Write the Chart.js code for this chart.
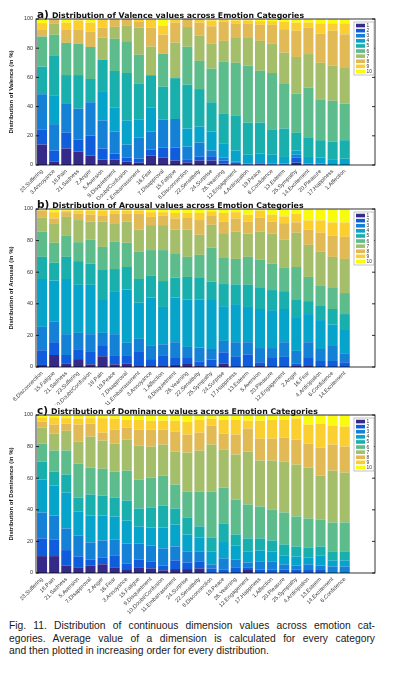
<!DOCTYPE html>
<html>
<head>
<meta charset="utf-8">
<script src="https://cdn.jsdelivr.net/npm/chart.js@4.4.1/dist/chart.umd.min.js"></script>
<style>
  body { margin: 0; background: #fff; width: 403px; height: 682px; position: relative; overflow: hidden; }
  .panel { position: absolute; left: 0; width: 403px; }
  #caption { position: absolute; left: 9px; top: 620px; width: 366px; font: 10.3px "Liberation Sans", Arial, sans-serif; line-height: 12.5px; color: #1a1a1a; }
  #caption .j { text-align: justify; text-align-last: justify; }
</style>
</head>
<body>
<div class="panel" style="top:0"><canvas id="valence" width="403" height="200"></canvas></div>
<div class="panel" style="top:200px"><canvas id="arousal" width="403" height="205"></canvas></div>
<div class="panel" style="top:405px"><canvas id="dominance" width="403" height="214"></canvas></div>
<div id="caption">
  <div class="j">Fig. 11. Distribution of continuous dimension values across emotion cat-</div>
  <div class="j">egories. Average value of a dimension is calculated for every category</div>
  <div>and then plotted in increasing order for every distribution.</div>
</div>
<script>
// rating levels 1..10 and their colours (parula-like)
const levels = ['1', '2', '3', '4', '5', '6', '7', '8', '9', '10'];
const levelColors = ['#352a87', '#0f5cdd', '#1481d6', '#06a4ca', '#19afad',
                     '#5cbc8b', '#a5be6a', '#e1b955', '#fccf30', '#f9fb0e'];

// a) valence: categories in increasing order, each row = share (%) of levels 1..10
const valenceLabels = ['23.Suffering', '3.Annoyance', '18.Pain', '21.Sadness', '2.Anger', '5.Aversion',
  '9.Disquietment', '10.Doubt/Confusion', '11.Embarrassment', '16.Fear', '7.Disapproval', '15.Fatigue',
  '8.Disconnection', '22.Sensitivity', '24.Surprise', '26.Yearning', '12.Engagement', '4.Anticipation',
  '19.Peace', '6.Confidence', '13.Esteem', '25.Sympathy', '14.Excitement', '20.Pleasure', '17.Happiness',
  '1.Affection'];
const valenceRows = [
  [14, 10.4, 24.1, 0, 18.9, 20.6, 0, 4.9, 4.3, 2.8],
  [2.5, 7.4, 18.1, 19.8, 26.9, 14.5, 7.8, 3, 0, 0],
  [11.3, 11, 20, 0, 19.3, 22.1, 0, 9.2, 4.6, 2.5],
  [9.2, 8.3, 21.1, 0, 23, 21.4, 0, 9.9, 6.1, 1],
  [6.4, 13.8, 22.8, 0, 15.9, 22, 0, 10.4, 6.2, 2.5],
  [3.7, 7.6, 19.3, 20, 21.4, 0, 15.2, 6.8, 6, 0],
  [3.7, 4.1, 15.2, 16.5, 24.9, 22, 8.2, 5.4, 0, 0],
  [2.3, 2.7, 9, 16.6, 32.4, 21.8, 10.9, 4.3, 0, 0],
  [1.6, 2.8, 14.5, 12.4, 24.6, 19.6, 18.6, 4.3, 1.6, 0],
  [6.4, 4.2, 12.4, 16.5, 22, 0, 19.6, 13, 5.9, 0],
  [5, 7, 19, 0, 22.6, 22.7, 0, 13, 6.2, 4.5],
  [3, 9, 19.5, 0, 28, 0, 24.3, 13.7, 2, 0.5],
  [1.8, 1.7, 9.1, 12.4, 30, 26, 13.5, 5.5, 0, 0],
  [3, 2.7, 9.7, 11, 25.6, 19.3, 17.2, 9, 2.5, 0],
  [3, 3, 4, 13, 20, 23, 17, 12, 4, 1],
  [1, 2, 2, 9.5, 20.5, 36, 14, 13, 1.5, 0.5],
  [0.5, 1, 1, 7.5, 24, 36, 17, 10, 2, 1],
  [0, 0.5, 0.5, 6, 22, 39, 19, 10, 2, 1],
  [0.5, 0.5, 1, 6, 21, 35.5, 20.5, 11, 2.5, 1.5],
  [0, 0.5, 0.5, 6, 17, 39, 20, 13, 2.5, 1.5],
  [0, 0.5, 0.5, 4.5, 19.5, 31, 21, 16, 5, 2],
  [1.6, 3.4, 2, 3, 12, 27, 25, 18, 5.5, 2.5],
  [0, 0.5, 0.5, 4.5, 13.5, 34, 23, 18, 3.5, 2.5],
  [0, 0.5, 0.5, 4, 12, 28, 25, 20, 7, 3],
  [0, 0, 0, 3.5, 12.5, 28, 24, 24, 5, 3],
  [0, 0, 0, 4.3, 12.7, 25, 25, 22.5, 7.5, 3]
];

// b) arousal
const arousalLabels = ['8.Disconnection', '15.Fatigue', '21.Sadness', '23.Suffering', '10.Doubt/Confusion',
  '18.Pain', '19.Peace', '7.Disapproval', '11.Embarrassment', '3.Annoyance', '1.Affection', '9.Disquietment',
  '26.Yearning', '22.Sensitivity', '25.Sympathy', '24.Surprise', '17.Happiness', '13.Esteem', '5.Aversion',
  '20.Pleasure', '12.Engagement', '2.Anger', '16.Fear', '4.Anticipation', '6.Confidence', '14.Excitement'];
const arousalRows = [
  [1.3, 9.3, 14.8, 30.3, 14, 15.9, 9.1, 4.3, 0.5, 0.5],
  [7.6, 8.1, 12.9, 26.1, 11.3, 12.6, 12.4, 3, 4, 2],
  [2, 5.6, 13.2, 34.9, 14, 13.3, 12, 3, 1, 1],
  [5, 5.8, 10.8, 30.4, 15, 12, 14, 4, 2, 1],
  [1.7, 8.3, 10.8, 31.2, 13.5, 15, 11.5, 4.4, 2.6, 1],
  [6.8, 6.5, 8.3, 21.4, 18.4, 14.6, 16, 4, 3, 1],
  [1.7, 5.3, 13.8, 27.2, 14, 17.5, 11.5, 6, 2, 1],
  [2.3, 4.7, 8.3, 33.7, 14.3, 15.3, 13.4, 5, 2, 1],
  [0.6, 9.4, 7.8, 22.9, 15, 17.2, 14.1, 10, 2, 1],
  [0.6, 4.4, 8.8, 30.1, 14.1, 16, 15.8, 5.2, 3, 2],
  [0.6, 6.4, 7.4, 23.6, 16.4, 19.6, 15.8, 6, 2.2, 2],
  [1.3, 4.4, 10, 28.2, 12.7, 15.4, 15, 7, 3.5, 2.5],
  [1.9, 3.8, 7, 29.9, 14.4, 12.7, 17.3, 7.3, 3.2, 2.5],
  [0.6, 3, 8.7, 30.3, 14.2, 14.2, 12.7, 9.3, 4.5, 2.5],
  [0, 4.7, 6.7, 31, 11.6, 21.6, 14.4, 6, 2.5, 1.5],
  [2.3, 7, 7.2, 22, 14, 16.5, 15.7, 7.3, 5.5, 2.5],
  [0, 6.4, 9.3, 24.1, 12.5, 16.1, 17.2, 8.4, 4, 2],
  [0, 8, 7.7, 22.3, 14, 17.7, 14.8, 7.5, 4.4, 3.6],
  [0.6, 2.4, 9, 24.7, 13.3, 17.8, 17.8, 8.9, 4.5, 1],
  [0, 5.7, 6.3, 24, 12.7, 16.6, 19, 7.7, 4.4, 3.6],
  [0, 6.4, 9.3, 21, 11.3, 14.7, 17.8, 10.5, 4.3, 4.7],
  [0.6, 1.4, 8.2, 20.8, 11.4, 20.9, 21.7, 6.5, 5.5, 3],
  [0.6, 5.1, 10, 17.8, 8.2, 15.3, 20.3, 9.6, 5.9, 7.2],
  [0, 3.8, 7.6, 18.3, 8.9, 12.7, 21.6, 12.1, 7.8, 7.2],
  [0, 3.8, 9.5, 13.7, 9.7, 13.3, 19.7, 13.3, 8.5, 8.5],
  [0, 3, 5.3, 15.7, 9.5, 13.3, 21.6, 14, 9.1, 8.5]
];

// c) dominance
const dominanceLabels = ['23.Suffering', '18.Pain', '21.Sadness', '5.Aversion', '7.Disapproval', '2.Anger',
  '16.Fear', '3.Annoyance', '15.Fatigue', '9.Disquietment', '10.Doubt/Confusion', '11.Embarrassment',
  '24.Surprise', '22.Sensitivity', '8.Disconnection', '19.Peace', '26.Yearning', '12.Engagement',
  '17.Happiness', '1.Affection', '20.Pleasure', '25.Sympathy', '4.Anticipation', '13.Esteem',
  '14.Excitement', '6.Confidence'];
const dominanceRows = [
  [10.7, 11.2, 16.4, 20.9, 11.3, 11.4, 10.1, 3.8, 2.7, 1.5],
  [10.7, 10.6, 15.1, 19, 8.8, 13.3, 10.7, 5.7, 4.6, 1.5],
  [4.8, 9.7, 13.7, 22.8, 11.3, 15.2, 12.5, 4.5, 3.5, 2],
  [3.6, 6.9, 13.3, 15.2, 8.8, 21.5, 13.9, 10.7, 3.8, 2.3],
  [4.8, 3.8, 10.8, 17, 13.3, 17, 19.6, 8.2, 3.5, 2],
  [5.5, 4.4, 10.7, 15.8, 12.6, 17, 17.8, 5, 9.2, 2],
  [3.6, 7.6, 10.1, 14.5, 12, 16.4, 17.7, 8.8, 7, 2.3],
  [1.9, 4.2, 12.6, 14.6, 12.6, 18.9, 19.6, 7.6, 5, 3],
  [3.6, 5, 10.1, 10.8, 11.3, 18.4, 21.4, 10.1, 6.3, 3],
  [2.9, 4.5, 10.1, 11.3, 12.7, 18.9, 19.6, 10.7, 5.7, 3.6],
  [1.7, 3.1, 10.8, 13.2, 13.9, 19, 19.6, 9.4, 5.7, 3.6],
  [2.5, 5.5, 8.8, 13.9, 10.1, 15.2, 20.8, 12.7, 6.9, 3.6],
  [2.5, 4.2, 7, 10.7, 10.8, 16.4, 24.6, 11.4, 8.2, 4.2],
  [2.9, 4.5, 6.3, 8.8, 7, 22.1, 25.9, 11.3, 8.2, 3],
  [0, 2.9, 2.6, 8.2, 8.8, 29.1, 29.7, 12, 4.4, 2.3],
  [0, 2.3, 7, 10.3, 11.8, 22.6, 24, 10.2, 8.8, 3],
  [0, 3.6, 5, 8.9, 6.9, 22.1, 28.5, 12.6, 9.4, 3],
  [1.9, 1.7, 3.1, 7, 8.2, 21.5, 33.4, 14.6, 5, 3.6],
  [0, 2.3, 5.1, 6.9, 7.6, 20.2, 29.1, 13.8, 11.4, 3.6],
  [0, 2.3, 5.1, 6.3, 6.9, 19.6, 31, 13.8, 12, 3],
  [0, 2.3, 3.2, 5.7, 6.9, 20.2, 32.2, 15.2, 11.3, 3],
  [0, 2.3, 2.5, 5.7, 6.3, 19, 32.8, 15.8, 13.3, 2.3],
  [0, 1.9, 3.6, 4.4, 6.3, 18.3, 32.2, 15.2, 12, 6.1],
  [0, 1.9, 2.9, 6.4, 5.6, 17.1, 27.8, 17.7, 15.1, 5.5],
  [0, 0, 4.2, 3.8, 5.7, 18.3, 32.8, 16.5, 12, 6.7],
  [0, 0, 4.2, 3.8, 5.7, 18.3, 31.6, 16.4, 12.6, 7.4]
];

const yTicks = [0, 20, 40, 60, 80, 100];

// box round the axes with inward ticks, matlab style
const axesBox = {
  id: 'axesBox',
  afterDatasetsDraw(chart) {
    const { ctx, chartArea: a, scales } = chart;
    ctx.save();
    ctx.strokeStyle = '#000';
    ctx.lineWidth = 0.8;
    ctx.strokeRect(a.left, a.top, a.right - a.left, a.bottom - a.top);
    ctx.beginPath();
    yTicks.forEach(v => {
      const y = scales.y.getPixelForValue(v);
      ctx.moveTo(a.left, y); ctx.lineTo(a.left + 3, y);
      ctx.moveTo(a.right, y); ctx.lineTo(a.right - 3, y);
    });
    ctx.stroke();
    ctx.restore();
  }
};

// "a) Distribution of ..." drawn from the left edge of the axes
const panelTitle = {
  id: 'panelTitle',
  afterDraw(chart, args, opts) {
    const { ctx, chartArea: a } = chart;
    ctx.save();
    ctx.fillStyle = '#111';
    ctx.textBaseline = 'alphabetic';
    ctx.font = 'bold 10.5px "DejaVu Sans"';
    const y = a.top - 1.5;
    ctx.fillText(opts.tag, a.left + 1, y);
    const w = ctx.measureText(opts.tag).width + 3;
    ctx.font = 'bold 7.8px "DejaVu Sans"';
    ctx.fillText(opts.text, a.left + 1 + w, y);
    ctx.restore();
  }
};

// small boxed legend in the top-right corner of the axes
const boxLegend = {
  id: 'boxLegend',
  afterDraw(chart) {
    const { ctx, chartArea: a } = chart;
    const sets = chart.data.datasets;
    const rowH = 5.1, w = 20, x = a.right - w - 1, y = a.top + 3;
    ctx.save();
    ctx.fillStyle = '#fff';
    ctx.fillRect(x, y, w, rowH * sets.length + 2);
    ctx.strokeStyle = '#999';
    ctx.lineWidth = 0.6;
    ctx.strokeRect(x, y, w, rowH * sets.length + 2);
    ctx.font = '4.8px "Liberation Sans"';
    ctx.textBaseline = 'middle';
    sets.forEach((ds, i) => {
      const cy = y + 1 + rowH * (i + 0.5);
      ctx.fillStyle = ds.backgroundColor;
      ctx.fillRect(x + 2, cy - 1.8, 9, 3.6);
      ctx.fillStyle = '#333';
      ctx.fillText(ds.label, x + 12.5, cy + 0.2);
    });
    ctx.restore();
  }
};

function makeChart(id, tag, title, yTitle, labels, rows, top, xHeight) {
  const datasets = levels.map((lv, i) => ({
    label: lv,
    data: rows.map(r => r[i]),
    backgroundColor: levelColors[i],
    borderWidth: 0,
    barPercentage: 0.83,
    categoryPercentage: 1
  }));
  return new Chart(document.getElementById(id), {
    type: 'bar',
    // two empty slots on the right leave room for the legend
    data: { labels: labels.concat(['', '']), datasets },
    options: {
      responsive: false,
      animation: false,
      layout: { padding: { left: 0, right: 28, top: top, bottom: 0 } },
      plugins: {
        legend: { display: false },
        tooltip: { enabled: false },
        panelTitle: { tag: tag, text: title }
      },
      scales: {
        x: {
          stacked: true,
          grid: { display: false, drawTicks: false },
          border: { display: false },
          ticks: {
            autoSkip: false, minRotation: 45, maxRotation: 45, padding: 3,
            color: '#3a3a3a', font: { family: '"Liberation Sans"', size: 5.6 }
          },
          afterFit: s => { s.height = xHeight; }
        },
        y: {
          stacked: true, min: 0, max: 100,
          grid: { display: false, drawTicks: false },
          border: { display: false },
          ticks: {
            stepSize: 20, padding: 3, color: '#333',
            font: { family: '"Liberation Sans"', size: 5.4 }
          },
          title: {
            display: true, text: yTitle, color: '#111',
            font: { family: '"Liberation Sans"', size: 6, weight: 'bold' },
            padding: { top: 8, bottom: 0 }
          },
          afterFit: s => { s.width = 36; }
        }
      }
    },
    plugins: [axesBox, panelTitle, boxLegend]
  });
}

makeChart('valence', 'a)', 'Distribution of Valence values across Emotion Categories',
  'Distribution of Valence (in %)', valenceLabels, valenceRows, 19, 35);
makeChart('arousal', 'b)', 'Distribution of Arousal values across Emotion Categories',
  'Distribution of Arousal (in %)', arousalLabels, arousalRows, 9, 38);
makeChart('dominance', 'c)', 'Distribution of Dominance values across Emotion Categories',
  'Distribution of Dominance (in %)', dominanceLabels, dominanceRows, 10, 46);
</script>
</body>
</html>
